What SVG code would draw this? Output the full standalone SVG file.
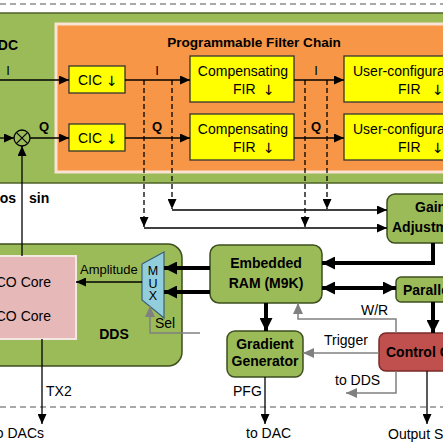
<svg xmlns="http://www.w3.org/2000/svg" width="443" height="443" viewBox="0 0 443 443">
<style>
text{font-family:"Liberation Sans","DejaVu Sans",Arial,sans-serif;fill:#000}
.b{font-weight:bold}
.t13{font-size:13px}
.t14{font-size:14px}
.ln{stroke:#000;stroke-width:1.3;fill:none}
.dash{stroke:#000;stroke-width:1.3;stroke-dasharray:5,3;fill:none}
.thick{stroke:#000;stroke-width:4;fill:none}
.gray{stroke:#808080;stroke-width:1.5;fill:none}
.sep{stroke:#555;stroke-width:1.2;stroke-dasharray:6,4;fill:none}
.yel{fill:#ffff00;stroke:#333;stroke-width:1.3}
.grn{fill:#9bbb59;stroke:#3d4f1e;stroke-width:1.5}
.arr{font-family:"DejaVu Sans",sans-serif}
</style>
<defs>
<marker id="a" markerUnits="userSpaceOnUse" markerWidth="10" markerHeight="9" refX="10" refY="4.5" orient="auto"><path d="M0,0 L10,4.5 L0,9 z" fill="#000"/></marker>
<marker id="at" markerUnits="userSpaceOnUse" markerWidth="13" markerHeight="13" refX="13" refY="6.5" orient="auto-start-reverse"><path d="M0,0 L13,6.5 L0,13 z" fill="#000"/></marker>
<marker id="ag" markerUnits="userSpaceOnUse" markerWidth="11" markerHeight="10" refX="11" refY="5" orient="auto"><path d="M0,0 L11,5 L0,10 z" fill="#808080"/></marker>
</defs>
<rect width="443" height="443" fill="#fff"/>
<line class="sep" x1="0" y1="4" x2="443" y2="4"/>
<line class="sep" x1="0" y1="407" x2="443" y2="407"/>

<g id="ddc">
<rect x="-2" y="13" width="447" height="170" fill="#9bbb59" stroke="#4f6228" stroke-width="1.5"/>
<text class="b t14" x="18" y="50" text-anchor="end">DDC</text>
</g>
<g id="filter-chain">
<rect x="56" y="24" width="400" height="148" fill="#f79646" stroke="#fbe3d3" stroke-width="3"/>
<text class="b" font-size="13.6" x="254" y="47" text-anchor="middle">Programmable Filter Chain</text>
</g>

<g id="cic-i"><rect class="yel" x="69" y="66" width="56" height="27"/><text class="t14" x="78" y="85">CIC</text><text class="t14 arr" x="106" y="86">↓</text></g>
<g id="cic-q"><rect class="yel" x="69" y="124" width="56" height="27"/><text class="t14" x="78" y="143">CIC</text><text class="t14 arr" x="106" y="144">↓</text></g>
<g id="comp-i"><rect class="yel" x="190" y="56" width="104" height="46"/><text class="t14" x="243" y="76" text-anchor="middle">Compensating</text><text class="t14" x="233" y="94">FIR</text><text class="t14 arr" x="263" y="95">↓</text></g>
<g id="comp-q"><rect class="yel" x="190" y="114" width="104" height="46"/><text class="t14" x="243" y="134" text-anchor="middle">Compensating</text><text class="t14" x="233" y="152">FIR</text><text class="t14 arr" x="263" y="153">↓</text></g>
<g id="user-i"><rect class="yel" x="344" y="56" width="112" height="46"/><text class="t14" x="353" y="76">User-configurable</text><text class="t14" x="398" y="94">FIR</text><text class="t14 arr" x="432" y="95">↓</text></g>
<g id="user-q"><rect class="yel" x="344" y="114" width="112" height="46"/><text class="t14" x="353" y="134">User-configurable</text><text class="t14" x="398" y="152">FIR</text><text class="t14 arr" x="432" y="153">↓</text></g>

<g id="mixer"><circle cx="22" cy="138" r="8" fill="none" stroke="#000" stroke-width="1.3"/><path d="M16.3,132.3 L27.7,143.7 M27.7,132.3 L16.3,143.7" stroke="#000" stroke-width="1.2"/></g>

<g id="dds">
<rect class="grn" x="-14" y="244" width="196" height="122" rx="14"/>
<text class="b t14" x="114" y="339" text-anchor="middle">DDS</text>
</g>
<g id="nco"><rect x="-6" y="256" width="82" height="83" fill="#e6b9b8" stroke="#f4e8e3" stroke-width="2"/>
<text class="t14" x="51" y="287" text-anchor="end">NCO Core</text>
<text class="t14" x="51" y="321" text-anchor="end">NCO Core</text></g>
<g id="mux"><polygon points="142,264 164,252 164,318 142,300" fill="#92cddc" stroke="#3b5f7a" stroke-width="1.2"/>
<text font-size="12.5" text-anchor="middle" x="153" y="275">M<tspan x="153" dy="12.5">U</tspan><tspan x="153" dy="12.5">X</tspan></text></g>

<g id="gain"><rect class="grn" x="387" y="194" width="84" height="49" rx="8"/><text class="b t14" x="415" y="212">Gain</text><text class="b t14" x="392" y="232">Adjustment</text></g>
<g id="ram"><rect class="grn" x="210" y="245" width="112" height="58" rx="9"/><text class="b t14" x="266" y="268" text-anchor="middle">Embedded</text><text class="b t14" x="266" y="288" text-anchor="middle">RAM (M9K)</text></g>
<g id="parallel"><rect class="grn" x="396" y="277" width="70" height="25" rx="5"/><text class="b t14" x="403" y="295">Parallel</text></g>
<g id="gradient"><rect class="grn" x="227" y="331" width="76" height="46" rx="8"/><text class="b t14" x="265" y="349" text-anchor="middle">Gradient</text><text class="b t14" x="265" y="366" text-anchor="middle">Generator</text></g>
<g id="control"><rect x="379" y="333" width="90" height="38" rx="7" fill="#c0504d" stroke="#7a2a28" stroke-width="1.5"/><text class="b t14" x="386" y="357" fill="#2a0000">Control C</text></g>

<g id="connectors">
<path class="ln" d="M0,80 H69" marker-end="url(#a)"/>
<path class="ln" d="M125,80 H190" marker-end="url(#a)"/>
<path class="ln" d="M294,80 H344" marker-end="url(#a)"/>
<path class="ln" d="M0,138 H14" marker-end="url(#a)"/>
<path class="ln" d="M30,138 H69" marker-end="url(#a)"/>
<path class="ln" d="M125,138 H190" marker-end="url(#a)"/>
<path class="ln" d="M294,138 H344" marker-end="url(#a)"/>
<path class="ln" d="M22,256 V146" marker-end="url(#a)"/>
<path class="dash" d="M144,80 V227" marker-end="url(#a)"/>
<path class="dash" d="M172,80 V209" marker-end="url(#a)"/>
<path class="dash" d="M305,80 V227" marker-end="url(#a)"/>
<path class="dash" d="M327,80 V209" marker-end="url(#a)"/>
<path class="ln" d="M172,210 H387" marker-end="url(#a)"/>
<path class="ln" d="M144,228 H387" marker-end="url(#a)"/>
<path class="thick" d="M433,243 V263 H322" marker-end="url(#at)"/>
<path class="thick" d="M322,288 H396" marker-start="url(#at)" marker-end="url(#at)"/>
<path class="thick" d="M433,302 V333" marker-end="url(#at)"/>
<path class="thick" d="M266,303 V331" marker-end="url(#at)"/>
<path class="thick" d="M210,268 H164" marker-end="url(#at)"/>
<path class="thick" d="M210,292 H164" marker-end="url(#at)"/>
<path class="ln" d="M142,282 H76" marker-end="url(#a)"/>
<path class="gray" d="M200,333 H150 V306" marker-end="url(#ag)"/>
<path class="gray" d="M396,333 V319 H298 V303" marker-end="url(#ag)"/>
<path class="gray" d="M379,353 H303" marker-end="url(#ag)"/>
<path class="gray" d="M396,371 V393 H346" marker-end="url(#ag)"/>
<path class="ln" d="M427,371 V424" marker-end="url(#a)"/>
<path class="ln" d="M42,339 V424" marker-end="url(#a)"/>
<path class="ln" d="M265,377 V424" marker-end="url(#a)"/>
</g>

<g id="labels">
<text class="t13" x="8" y="75" text-anchor="middle">I</text>
<text class="t13" x="157" y="75" text-anchor="middle">I</text>
<text class="t13" x="316" y="75" text-anchor="middle">I</text>
<text class="b t13" x="44" y="131" text-anchor="middle">Q</text>
<text class="b t13" x="157" y="131" text-anchor="middle">Q</text>
<text class="b t13" x="316" y="131" text-anchor="middle">Q</text>
<text class="b t14" x="16" y="203" text-anchor="end">cos</text>
<text class="b t14" x="29" y="203">sin</text>
<text class="t13" x="80" y="274">Amplitude</text>
<text class="t14" x="155" y="328">Sel</text>
<text class="t14" x="361" y="315">W/R</text>
<text class="t14" x="324" y="345">Trigger</text>
<text class="t14" x="335" y="385">to DDS</text>
<text class="t14" x="46" y="396">TX2</text>
<text class="t14" x="233" y="396">PFG</text>
<text class="t14" x="44" y="438" text-anchor="end">to DACs</text>
<text class="t14" x="246" y="438">to DAC</text>
<text class="t14" x="388" y="439">Output Signal</text>
</g>
</svg>
